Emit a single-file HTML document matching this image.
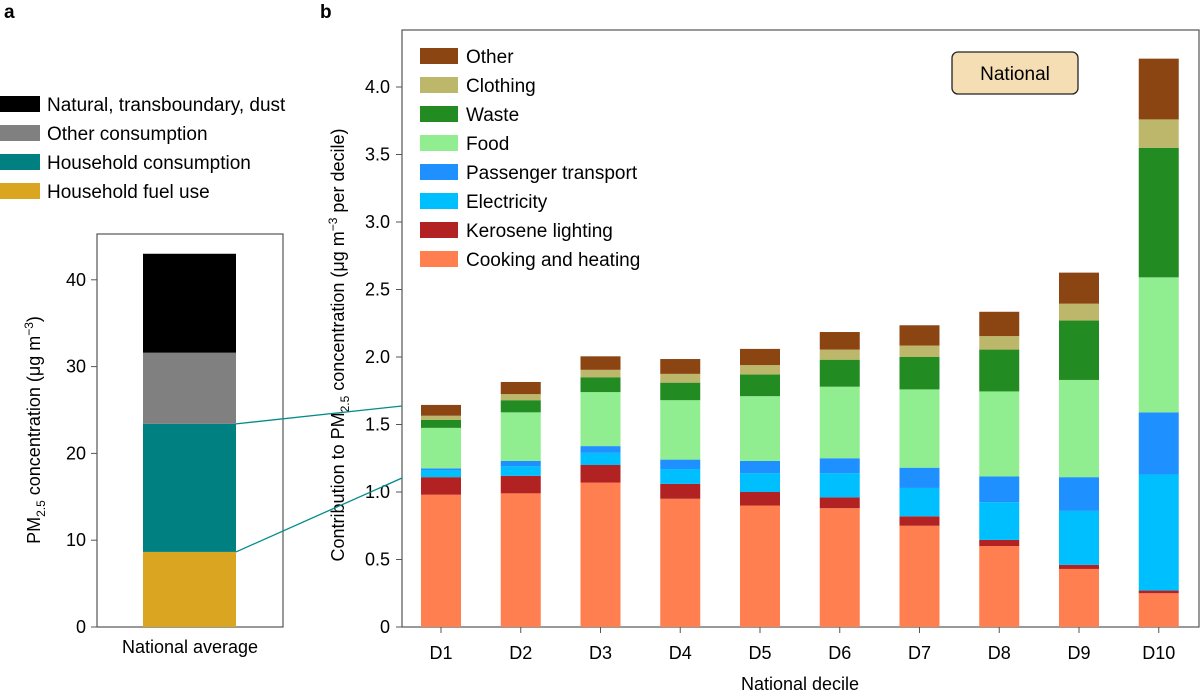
<!DOCTYPE html>
<html><head><meta charset="utf-8"><style>
html,body{margin:0;padding:0;background:#fff;}
svg{display:block;font-family:"Liberation Sans",Arial,sans-serif;}
</style></head><body>
<svg id="chart" width="1200" height="693" viewBox="0 0 1200 693" xmlns="http://www.w3.org/2000/svg">
<text x="4" y="18" font-size="19" font-weight="bold">a</text>
<text x="320" y="18" font-size="19" font-weight="bold">b</text>
<g id="legA"></g>
<g id="panelA"></g>
<g id="panelB"></g>
<g id="legB"></g>
<g>
<rect x="952" y="52" width="126" height="42" rx="6" fill="#f5deb3" stroke="#222" stroke-width="1.3"/>
<text x="1015" y="80" font-size="19" text-anchor="middle">National</text>
</g>
<text transform="translate(40,430) rotate(-90)" font-size="18" text-anchor="middle">PM<tspan font-size="12" dy="5">2.5</tspan><tspan dy="-5"> concentration (μg m</tspan><tspan font-size="12" dy="-7">−3</tspan><tspan dy="7">)</tspan></text>
<text transform="translate(344,345) rotate(-90)" font-size="18" text-anchor="middle">Contribution to PM<tspan font-size="12" dy="5">2.5</tspan><tspan dy="-5"> concentration (μg m</tspan><tspan font-size="12" dy="-7">−3</tspan><tspan dy="7"> per decile)</tspan></text>
<text x="190" y="653" font-size="18" text-anchor="middle">National average</text>
<text x="800" y="690" font-size="18" text-anchor="middle">National decile</text>
</svg>
<script>
const NS="http://www.w3.org/2000/svg";
// Panel a data
const aCategories=["Household fuel use","Household consumption","Other consumption","Natural, transboundary, dust"];
const aValues=[8.65,14.75,8.2,11.4];
const aColors=["#daa520","#008080","#808080","#000000"];
const aTicks=[0,10,20,30,40];
// Panel b data
const deciles=["D1","D2","D3","D4","D5","D6","D7","D8","D9","D10"];
const bSeries=["Cooking and heating","Kerosene lighting","Electricity","Passenger transport","Food","Waste","Clothing","Other"];
const cooking=[0.98,0.99,1.07,0.95,0.90,0.88,0.75,0.60,0.43,0.25];
const kerosene=[0.13,0.13,0.13,0.11,0.10,0.08,0.07,0.045,0.03,0.02];
const electricity=[0.05,0.07,0.09,0.11,0.14,0.18,0.21,0.28,0.40,0.86];
const transport=[0.015,0.04,0.05,0.07,0.09,0.11,0.15,0.19,0.25,0.46];
const food=[0.30,0.36,0.40,0.44,0.48,0.53,0.58,0.63,0.72,1.00];
const waste=[0.06,0.09,0.11,0.13,0.16,0.20,0.24,0.31,0.44,0.96];
const clothing=[0.03,0.045,0.055,0.065,0.07,0.075,0.085,0.10,0.125,0.21];
const other=[0.08,0.09,0.10,0.11,0.12,0.13,0.15,0.18,0.23,0.45];
const bColors=["#ff7f50","#b22222","#00bfff","#1e90ff","#90ee90","#228b22","#bdb76b","#8b4513"];
const bTicks=[0,0.5,1.0,1.5,2.0,2.5,3.0,3.5,4.0];
const bData=[cooking,kerosene,electricity,transport,food,waste,clothing,other];

function mk(tag,attrs,parent,text){const e=document.createElementNS(NS,tag);for(const k in attrs)e.setAttribute(k,attrs[k]);if(text!==undefined)e.textContent=text;parent.appendChild(e);return e;}
const slug=s=>s.toLowerCase().replace(/[^a-z0-9]+/g,'-').replace(/-$/,'');

// Panel a
const yA=v=>627-v*8.68;
const pA=document.getElementById('panelA');
let fr=mk('rect',{x:97,y:234,width:186,height:393,fill:'none',stroke:'#555','stroke-width':1.2},pA);


aTicks.forEach(t=>{
  let l=mk('line',{x1:91,x2:97,y1:yA(t),y2:yA(t),stroke:'#555'},pA);
  
  
  let tx=mk('text',{x:86,y:yA(t)+6,'font-size':18,'text-anchor':'end'},pA,String(t));
  
  
});
let cum=0;const aTops=[];
aValues.forEach((v,i)=>{
  let r=mk('rect',{x:143,y:yA(cum+v),width:93,height:v*8.68,fill:aColors[i]},pA);
  
  
  cum+=v;aTops.push(cum);
});

// Panel b
const yB=v=>627-v*135;
const xB=i=>441+i*79.75;
const pB=document.getElementById('panelB');
let fb=mk('rect',{x:402,y:30,width:797,height:597,fill:'none',stroke:'#555','stroke-width':1.2},pB);


bTicks.forEach(t=>{
  let l=mk('line',{x1:396,x2:402,y1:yB(t),y2:yB(t),stroke:'#555'},pB);
  
  
  let tx=mk('text',{x:390,y:yB(t)+6,'font-size':18,'text-anchor':'end'},pB,t===0?'0':t.toFixed(1));
  
  
});
deciles.forEach((d,i)=>{
  let l=mk('line',{x1:xB(i),x2:xB(i),y1:627,y2:633,stroke:'#555'},pB);
  
  
  let tx=mk('text',{x:xB(i),y:659,'font-size':18,'text-anchor':'middle'},pB,d);
  
  
  let c=0;
  bData.forEach((s,j)=>{
    let r=mk('rect',{x:xB(i)-20,y:yB(c+s[i]),width:40,height:s[i]*135,fill:bColors[j]},pB);
    
    
    c+=s[i];
  });
});
// connector lines
const svg=document.getElementById('chart');
let c1=mk('line',{x1:236,y1:yA(aTops[1]),x2:402,y2:406,stroke:'#008b8b','stroke-width':1.3},svg);


let c2=mk('line',{x1:236,y1:yA(aTops[0]),x2:402,y2:478,stroke:'#008b8b','stroke-width':1.3},svg);



// Legend a
const lA=document.getElementById('legA');
for(let k=0;k<4;k++){
  const i=3-k, y=104+k*29;
  let r=mk('rect',{x:0,y:y-8,width:40,height:16,fill:aColors[i]},lA);
  
  
  let t=mk('text',{x:47,y:y+7,'font-size':19},lA,aCategories[i]);
  
  
}
// Legend b
const lB=document.getElementById('legB');
for(let k=0;k<8;k++){
  const i=7-k, y=56+k*29;
  let r=mk('rect',{x:420,y:y-8,width:38,height:16,fill:bColors[i]},lB);
  
  
  let t=mk('text',{x:466,y:y+7,'font-size':19},lB,bSeries[i]);
  
  
}
</script>
</body></html>
